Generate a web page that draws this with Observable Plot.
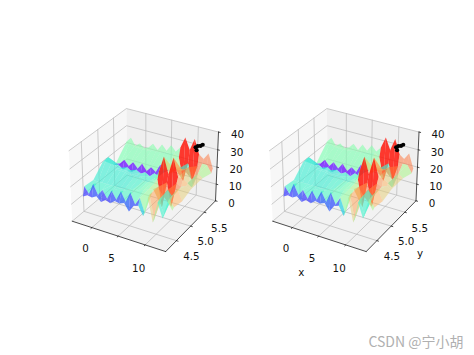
<!DOCTYPE html>
<html><head><meta charset="utf-8">
<style>html,body{margin:0;padding:0;background:#fff}svg{display:block}</style>
<script src="https://cdn.jsdelivr.net/npm/d3@7"></script>
<script src="https://cdn.jsdelivr.net/npm/@observablehq/plot@0.6"></script>
</head><body><script>
// ---- data ----
const xGrid=[-3.4,-2.52,-1.64,-0.76,0.12,1,1.88,2.76,3.64,4.52,5.4,6.28,7.16,8.04,8.92,9.8,10.68,11.56,12.44,13.3];
const yGrid=[4.42,4.47,4.75,5.05,5.10,5.42,5.47,5.80,5.85];
const zRow0=[10.5,12,11.5,13,10.5,12.5,11.5,13.5,13,14,10,14,15,10,21,8,20,12,22,18];
const zRow1=[15.6,12,18.5,13,16.7,12.5,17.8,13.5,19,14,20,14,18.5,11,22,9,21,13,23,19];
const zRow2=[15,15,15,15,15,15,15,15.5,16,17,17,18,19,20,22,18,22,19,24,18];
const zRow3=[21,24,22,19,19,19,18,18,18,17,17,18,20,5,20,7,21,20,21,20];
const zRow4=[21,24,22,19,19,19,18,18,18,17,17,18,24,33,24,34,24,24,22,20];
const zRow5=[14,15,13,15,13,15,13.5,15,13.5,16,15,18,20,22,22,22,24,14,22,20];
const zRow6=[14,15,18,15,18,15,18.5,15,18,16,21,18,20,22,22,22,24,14,22,20];
const zRow7=[21,22,21,21,21,21,22,22,22,23,23,24,22,9,20,11,20,22,22,18];
const zRow8=[22,25,21,23,21,22,25,22,26,23,27,24,27,33.5,27,34,26,24,28,20];
const zRows=[zRow0,zRow1,zRow2,zRow3,zRow4,zRow5,zRow6,zRow7,zRow8];
const colorBand0=[.1,.1,.12,.12,.1,.1,.12,.12,.14,.14,.12,.12,.3,.52,.7,.5,.4,.4,.6];
const colorBand1=[.4,.4,.4,.4,.4,.4,.4,.4,.42,.45,.45,.5,.55,.62,.78,.62,.4,.4,.75];
const colorBand2=[.38,.38,.38,.38,.38,.38,.38,.4,.4,.45,.48,.5,.6,.8,.85,.85,.85,.65,.7];
const colorBand3=[.38,.38,.38,.38,.38,.38,.38,.38,.4,.4,.45,.5,.97,.97,.97,.97,.8,.75,.7];
const colorBand4=[.36,.36,.36,.36,.36,.36,.38,.38,.4,.4,.45,.5,.6,.7,.75,.8,.7,.4,.7];
const colorBand5=[.03,.03,.03,.03,.05,.05,.03,.03,.05,.05,.05,.08,.5,.55,.6,.6,.65,.45,.7];
const colorBand6=[.5,.5,.5,.5,.5,.5,.5,.5,.5,.5,.5,.55,.6,.9,.38,.9,.85,.6,.6];
const colorBand7=[.52,.52,.52,.52,.52,.52,.52,.52,.52,.52,.52,.52,.97,.97,.97,.97,.85,.85,.85];
const colorBands=[colorBand0,colorBand1,colorBand2,colorBand3,colorBand4,colorBand5,colorBand6,colorBand7];
const dotX=[10,10.4,10.9,11.3,10.2];
const dotY=[5.85,5.85,5.85,5.85,5.85];
const dotZ=[29.5,30.5,31,32,28];
const xTicks=[0,5,10],yTicks=[4.5,5,5.5],zTicks=[0,10,20,30,40];
const xLim=[-3.85,13.7],yLim=[4.14,5.93],zLim=[0,40];
const panels=[{offset:0,labels:false},{offset:200.5,labels:true}];
const watermark="CSDN @宁小胡";

// ---- matplotlib-like 3D view ----
const elev=30*Math.PI/180,azim=-60*Math.PI/180;
const k=1.8294640721620434/Math.hypot(4,4,3);
const box=[4*k,4*k,3*k],dist=10;
const R=box.map(v=>v/2);
const eyeDir=[Math.cos(elev)*Math.cos(azim),Math.cos(elev)*Math.sin(azim),Math.sin(elev)];
const u=[-Math.sin(azim),Math.cos(azim),0];
const v=[-Math.sin(elev)*Math.cos(azim),-Math.sin(elev)*Math.sin(azim),Math.cos(elev)];
const dot3=(a,b)=>a[0]*b[0]+a[1]*b[1]+a[2]*b[2];
function view(x,y,z){
  const p=[(x-xLim[0])/(xLim[1]-xLim[0])*box[0]-R[0],(y-yLim[0])/(yLim[1]-yLim[0])*box[1]-R[1],(z-zLim[0])/(zLim[1]-zLim[0])*box[2]-R[2]];
  const d=dist-dot3(p,eyeDir);
  return {X:dot3(p,u)/d*dist,Y:dot3(p,v)/d*dist,depth:d};
}
const A=view(xLim[0],yLim[0],zLim[0]),B=view(xLim[1],yLim[1],zLim[0]);
const sc=(215-71.7)/(B.X-A.X);
const ox=71.7-sc*A.X,oy=220.7+sc*A.Y;
function proj(o,x,y,z){const w=view(x,y,z);return {px:o+ox+sc*w.X,py:oy-sc*w.Y,depth:w.depth};}

// ---- build mark tables ----
const quads=[],grid=[],panes=[],edges=[],ticks=[],labels=[],dots=[];
let id=0;
function poly(arr,o,pts,extra){const key=id++;pts.forEach(p=>{const s=proj(o,p[0],p[1],p[2]);arr.push({key,px:s.px,py:s.py,...extra});});}
const [x0,x1]=xLim,[y0,y1]=yLim,[z0,z1]=zLim;
for(const P of panels){
  const o=P.offset;
  poly(panes,o,[[x0,y0,z0],[x1,y0,z0],[x1,y1,z0],[x0,y1,z0]],{c:"#f2f2f2"});
  poly(panes,o,[[x0,y0,z0],[x0,y1,z0],[x0,y1,z1],[x0,y0,z1]],{c:"#f7f7f7"});
  poly(panes,o,[[x0,y1,z0],[x1,y1,z0],[x1,y1,z1],[x0,y1,z1]],{c:"#efefef"});
  for(const t of xTicks){poly(grid,o,[[t,y0,z0],[t,y1,z0],[t,y1,z1]],{});
    poly(ticks,o,[[t,y0,z0],[t,y0-0.03,z0]],{});
    const s=proj(o,t,y0,z0);labels.push({px:s.px-6.5,py:s.py+21+t*0.25,t:String(t)});}
  for(const t of yTicks){poly(grid,o,[[x1,t,z0],[x0,t,z0],[x0,t,z1]],{});
    poly(ticks,o,[[x1,t,z0],[x1+0.3,t,z0]],{});
    const s=proj(o,x1,t,z0);labels.push({px:s.px+15,py:s.py+16,t:t.toFixed(1)});}
  for(const t of zTicks){poly(grid,o,[[x0,y0,t],[x0,y1,t],[x1,y1,t]],{});
    poly(ticks,o,[[x1,y1,t],[x1+0.3,y1,t]],{});
    const s=proj(o,x1,y1,t);labels.push({px:s.px+(t?19:16),py:s.py+2.5,t:String(t)});}
  poly(edges,o,[[x0,y0,z0],[x1,y0,z0]],{});
  poly(edges,o,[[x1,y0,z0],[x1,y1,z0]],{});
  poly(edges,o,[[x1,y1,z0],[x1,y1,z1]],{});
  if(P.labels){
    const a=proj(o,(x0+x1)/2,y0,z0),b=proj(o,x1,(y0+y1)/2,z0);
    labels.push({px:a.px-17,py:a.py+37,t:"x"});
    labels.push({px:b.px+28,py:b.py+29,t:"y"});
  }
  const cells=[];
  for(let j=0;j<yGrid.length-1;j++)for(let i=0;i<xGrid.length-1;i++){
    const pts=[[i,j],[i+1,j],[i+1,j+1],[i,j+1]].map(([a,b])=>[xGrid[a],yGrid[b],zRows[b][a]]);
    const depth=d3.mean(pts,p=>proj(o,...p).depth);
    cells.push({pts,level:colorBands[j][i],depth});
  }
  cells.sort((a,b)=>b.depth-a.depth);
  for(const c of cells)poly(quads,o,c.pts,{level:c.level});
  dotX.forEach((d,i)=>{const s=proj(o,d,dotY[i],dotZ[i]);dots.push({px:s.px,py:s.py});});
}
const rainbow=t=>{const r=Math.abs(2*t-0.5),g=Math.sin(Math.PI*t),b=Math.cos(Math.PI*t/2);
  return d3.rgb(255*Math.min(1,r),255*g,255*b).formatRgb();};
const alpha=d=>d.level>=0.95?0.85:d.level<0.2?0.8:d.level>0.6?0.52:0.65;

const fig=Plot.plot({width:474,height:355,margin:0,
  style:{background:"#fff",overflow:"hidden"},
  x:{domain:[0,474],range:[0,474],axis:null},
  y:{domain:[0,355],range:[0,355],axis:null},
  color:{type:"linear",domain:[0,1],interpolate:rainbow,clamp:true},
  marks:[
    Plot.line(panes,{x:"px",y:"py",z:"key",fill:d=>d.c,stroke:"none",curve:"linear-closed"}),
    Plot.line(grid,{x:"px",y:"py",z:"key",stroke:"#b8b8b8",strokeWidth:0.7}),
    Plot.line(edges,{x:"px",y:"py",z:"key",stroke:"#222",strokeWidth:0.8}),
    Plot.line(ticks,{x:"px",y:"py",z:"key",stroke:"#222",strokeWidth:0.8}),
    Plot.line(quads,{x:"px",y:"py",z:"key",fill:"level",fillOpacity:{value:alpha,scale:null},stroke:"none",curve:"linear-closed"}),
    Plot.dot(dots,{x:"px",y:"py",r:2.1,fill:"#000",stroke:"none"}),
    Plot.text(labels,{x:"px",y:"py",text:"t",fontSize:10.3,fontFamily:"DejaVu Sans",fill:"#111"}),
    Plot.text([watermark],{x:()=>463,y:()=>342,text:d=>d,textAnchor:"end",fontSize:14,fontFamily:"Noto Sans CJK SC",fill:"#b0b0b0"})
  ]});
document.body.appendChild(fig);
</script></body></html>
